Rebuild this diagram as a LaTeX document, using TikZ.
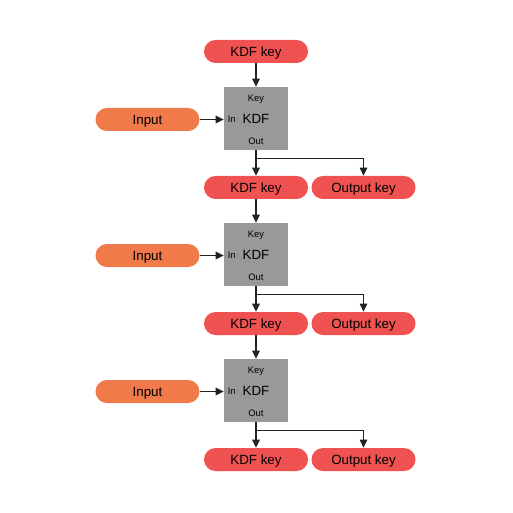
\documentclass[tikz,border=0pt]{standalone}
\usepackage{fontspec}
\setmainfont{Liberation Sans}
\usepackage{tikz}
\usetikzlibrary{arrows.meta, positioning, calc}
\definecolor{keyred}{RGB}{240,82,82}
\definecolor{inorange}{RGB}{240,122,74}
\definecolor{kdfgray}{RGB}{153,153,153}
\definecolor{linedark}{RGB}{34,34,34}

\begin{document}
\begin{tikzpicture}[x=0.75pt, y=-0.75pt,
    pill/.style={rectangle, rounded corners=8.6pt, minimum width=78pt,
                 minimum height=17.25pt, inner sep=0pt, font=\normalsize,
                 text height=0.95em, text depth=0.23em},
    keypill/.style={pill, fill=keyred},
    inpill/.style={pill, fill=inorange},
    kdfbox/.style={rectangle, fill=kdfgray, minimum width=48pt,
                   minimum height=47.25pt, inner sep=0pt, font=\normalsize,
                   text height=0.95em, text depth=0.23em},
    port/.style={font=\scriptsize, inner sep=0pt},
    flow/.style={-{Triangle[length=6pt, width=5.5pt]}, line width=1.4pt, draw=linedark}]

\useasboundingbox (0,0) rectangle (512,513);

%% Initial key
\node[keypill] (key0) at (256,51.5) {KDF key};

%% Three KDF stages
\foreach \i [evaluate=\i as \y using {118.5+136*(\i-1)}, evaluate=\i as \p using int(\i-1)] in {1,2,3} {
    \node[kdfbox]  (kdf\i) at (256,\y) {KDF};
    \node[port]    at ($(kdf\i.north)+(0,12.5)$) {Key};
    \node[port]    at ($(kdf\i.west)+(8,0.5)$) {In};
    \node[port]    at ($(kdf\i.south)+(0,-8.5)$) {Out};
    \node[inpill]  (in\i) at (147.5,\y+1) {Input};
    \node[keypill] (key\i) at (256,\y+69) {KDF key};
    \node[keypill] (out\i) at (363.5,\y+69) {Output key};
    \coordinate (split\i) at (256,\y+40);

    \draw[flow] (key\p) -- (kdf\i);
    \draw[flow] (in\i) -- (in\i -| kdf\i.west);
    \draw[flow] (kdf\i) -- (key\i);
    \draw[flow] (split\i) -| (out\i);
}

\end{tikzpicture}
\end{document}
